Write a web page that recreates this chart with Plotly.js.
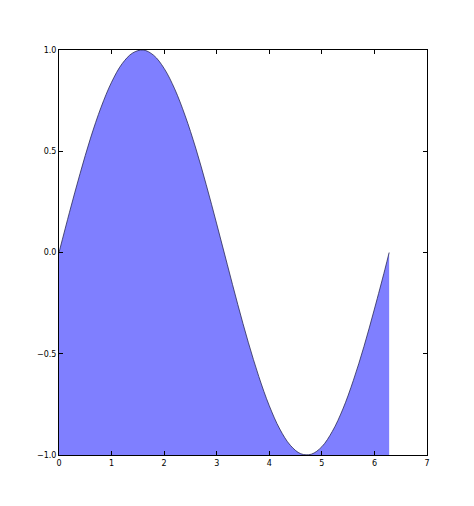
<!DOCTYPE html>
<html>
<head>
<meta charset="utf-8">
<script src="https://cdn.plot.ly/plotly-3.0.1.min.js"></script>
<style>
  body { margin: 0; background: #fff; }
  #chart { width: 474px; height: 506px; }
</style>
</head>
<body>
<div id="chart"></div>
<script>
// values
const xValues = [0, 0.2, 0.4, 0.6, 0.8, 1.0, 1.2, 1.4, 1.6, 1.8, 2.0, 2.2, 2.4, 2.6, 2.8, 3.0, 3.2, 3.4, 3.6, 3.8, 4.0, 4.2, 4.4, 4.6, 4.8, 5.0, 5.2, 5.4, 5.6, 5.8, 6.0, 6.2, 6.28];
const yValues = [0, 0.199, 0.389, 0.565, 0.717, 0.841, 0.932, 0.985, 1.0, 0.974, 0.909, 0.808, 0.675, 0.516, 0.335, 0.141, -0.058, -0.256, -0.443, -0.612, -0.757, -0.872, -0.952, -0.994, -0.996, -0.959, -0.883, -0.773, -0.631, -0.465, -0.279, -0.083, 0.0];
const baseValues = xValues.map(() => -1);

const data = [
  { x: xValues, y: baseValues, mode: "lines", line: { width: 0 }, hoverinfo: "skip", showlegend: false },
  { x: xValues, y: yValues, mode: "lines", fill: "tonexty", fillcolor: "rgba(0,0,255,0.5)",
    line: { color: "#2a2a55", width: 0.8, shape: "spline", smoothing: 1 }, showlegend: false }
];

const axisStyle = {
  showgrid: false, zeroline: false, showline: true, mirror: "ticks",
  linecolor: "#000", linewidth: 1, ticks: "inside", ticklen: 4, tickcolor: "#000",
  tickfont: { family: "DejaVu Sans", size: 8, color: "#000" }
};

const layout = {
  width: 474, height: 506,
  margin: { l: 59, r: 47, t: 50, b: 51 },
  paper_bgcolor: "#fff", plot_bgcolor: "#fff",
  xaxis: Object.assign({ range: [0, 7], tickvals: [0, 1, 2, 3, 4, 5, 6, 7] }, axisStyle),
  yaxis: Object.assign({ range: [-1, 1], tickvals: [-1, -0.5, 0, 0.5, 1], tickformat: ".1f" }, axisStyle)
};

Plotly.newPlot("chart", data, layout, { displayModeBar: false, staticPlot: true });
</script>
</body>
</html>
